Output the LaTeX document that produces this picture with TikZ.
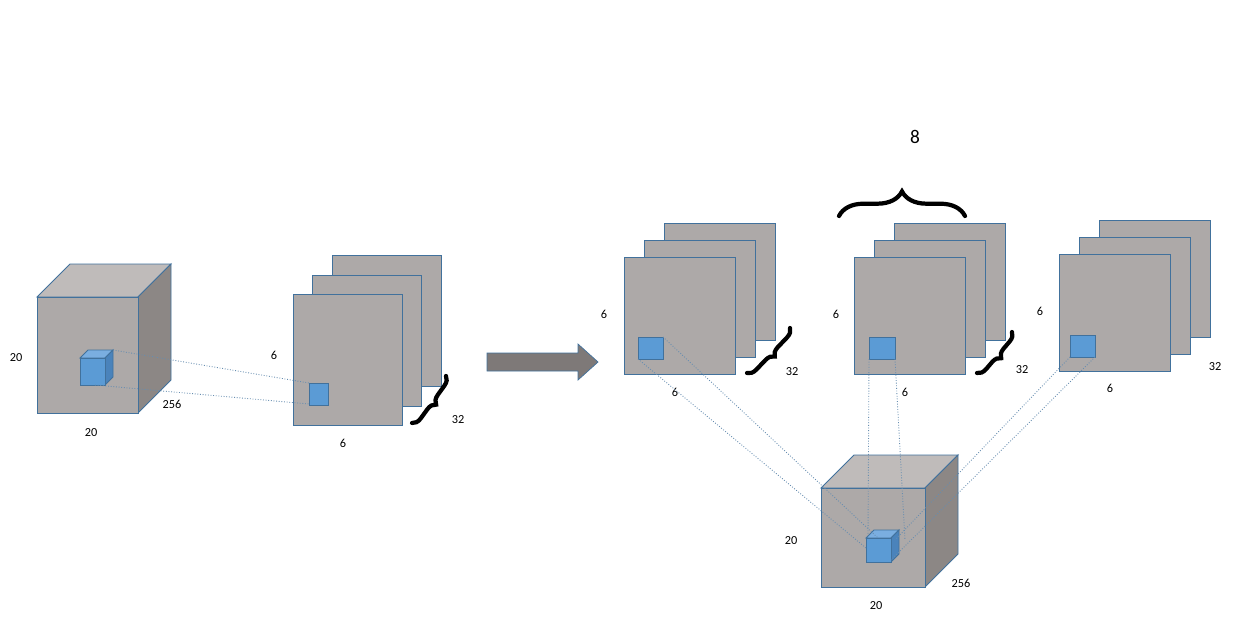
\documentclass[tikz,border=0pt]{standalone}
\usepackage{fontspec}
\setmainfont{Carlito}
\usetikzlibrary{decorations.pathreplacing}
\definecolor{face}{HTML}{ADA9A8}
\definecolor{topf}{HTML}{BFBBBA}
\definecolor{sidef}{HTML}{8C8785}
\definecolor{edge}{HTML}{41719C}
\definecolor{cub}{HTML}{5B9BD5}
\definecolor{cubtop}{HTML}{7AAEE0}
\definecolor{cubside}{HTML}{4A83BB}
\begin{document}
\begin{tikzpicture}[x=0.02cm,y=-0.02cm,
  lab/.style={font=\fontsize{7}{8}\selectfont,inner sep=0pt},
  sheet/.style={fill=face,draw=edge,line width=0.5pt},
  conn/.style={draw=edge!80,densely dotted,line width=0.5pt},
  brc/.style={decorate,decoration={brace,amplitude=#1},line width=2.4pt,line cap=round},
  brc/.default=6pt]
\useasboundingbox (0,0) rectangle (1242,622);
% cube macro: x0,y0 (front top-left), w,h, d
\newcommand\mycube[5]{%
 \fill[topf,draw=edge,line width=0.5pt] (#1,#2) -- ++(#5,-#5) -- ++(#3,0) -- ++(-#5,#5) -- cycle;
 \fill[sidef,draw=edge,line width=0.5pt] (#1+#3,#2) -- ++(#5,-#5) -- ++(0,#4) -- ++(-#5,#5) -- cycle;
 \fill[face,draw=edge,line width=0.5pt] (#1,#2) rectangle ++(#3,#4);}
\newcommand\smcube[5]{%
 \fill[cubtop,draw=edge,line width=0.5pt] (#1,#2) -- ++(#5,-#5) -- ++(#3,0) -- ++(-#5,#5) -- cycle;
 \fill[cubside,draw=edge,line width=0.5pt] (#1+#3,#2) -- ++(#5,-#5) -- ++(0,#4) -- ++(-#5,#5) -- cycle;
 \fill[cub,draw=edge,line width=0.5pt] (#1,#2) rectangle ++(#3,#4);}
\newcommand\stack[3]{% x,y of front top-left, dy of back
 \draw[sheet] (#1+40,#2-#3*2) rectangle ++(111,117);
 \draw[sheet] (#1+20,#2-#3) rectangle ++(111,117);
 \draw[sheet] (#1,#2) rectangle ++(111,117);}
% left
\mycube{37}{297}{101}{116}{33}
\smcube{80}{358}{25}{27}{8}
\coordinate (c1a) at (113,350); \coordinate (c1b) at (95,385);
\draw[sheet] (332,255) rectangle (441,386);
\draw[sheet] (312,275) rectangle (421,406);
\draw[sheet] (293,294) rectangle (402,425);
\draw[fill=cub,draw=edge] (309,383) rectangle (328,405);
\coordinate (s0a) at (309,383); \coordinate (s0b) at (309,404);
\draw[conn] (c1a) -- (s0a); \draw[conn] (c1b) -- (s0b);
\node[lab] (l1) at (16,358) {20};
\node[lab] (l2) at (91,433) {20};
\node[lab] (l3) at (172,404) {256};
\node[lab] (l4) at (274,355) {6};
\node[lab] (l5) at (343,443) {6};
\node[lab] (l6) at (458,420) {32};
\draw[brc=5pt] (446,376) -- (412,423);
% arrow
\fill[sidef!90!black,draw=edge] (487,353) -- (578,353) -- (578,344) -- (598,362) -- (578,380) -- (578,371) -- (487,371) -- cycle;
% right stacks
\stack{624}{257}{17}
\draw[fill=cub,draw=edge] (638,337) rectangle (663,359);
\stack{854}{257}{17}
\draw[fill=cub,draw=edge] (869,337) rectangle (895,359);
\stack{1059}{254}{17}
\draw[fill=cub,draw=edge] (1070,335) rectangle (1095,357);
\node[lab] (r1) at (604,314) {6};
\node[lab] (r2) at (675,392) {6};
\node[lab] (r3) at (792,372) {32};
\node[lab] (r4) at (836,314) {6};
\node[lab] (r5) at (905,392) {6};
\node[lab] (r6) at (1022,370) {32};
\node[lab] (r7) at (1040,311) {6};
\node[lab] (r8) at (1110,388) {6};
\node[lab] (r9) at (1215,367) {32};
\draw[brc=5pt] (790,328) -- (747,373);
\draw[brc=5pt] (1012,332) -- (977,373);
\draw[brc=14pt] (839,216) -- (965,216);
\node[font=\fontsize{11}{12}\selectfont,inner sep=0pt] (n8) at (915,137) {8};
% bottom cube
\mycube{821}{488}{104}{99}{33}
\smcube{866}{538}{25}{24}{8}
\node[lab] (b1) at (791,541) {20};
\node[lab] (b2) at (876,606) {20};
\node[lab] (b3) at (961,583) {256};
\coordinate (t1a) at (663,337); \coordinate (t1b) at (638,359);
\coordinate (t2a) at (869,359); \coordinate (t2b) at (895,359);
\coordinate (t3a) at (1070,357); \coordinate (t3b) at (1095,357);
\coordinate (k1) at (878,538); \coordinate (k2) at (866,548);
\coordinate (k3) at (868,538); \coordinate (k4) at (905,540);
\coordinate (k5) at (895,540); \coordinate (k6) at (891,560);
\draw[conn] (t1a) -- (k1); \draw[conn] (t1b) -- (k2);
\draw[conn] (t2a) -- (k3); \draw[conn] (t2b) -- (k4);
\draw[conn] (t3a) -- (k5); \draw[conn] (t3b) -- (k6);
\end{tikzpicture}
\end{document}
